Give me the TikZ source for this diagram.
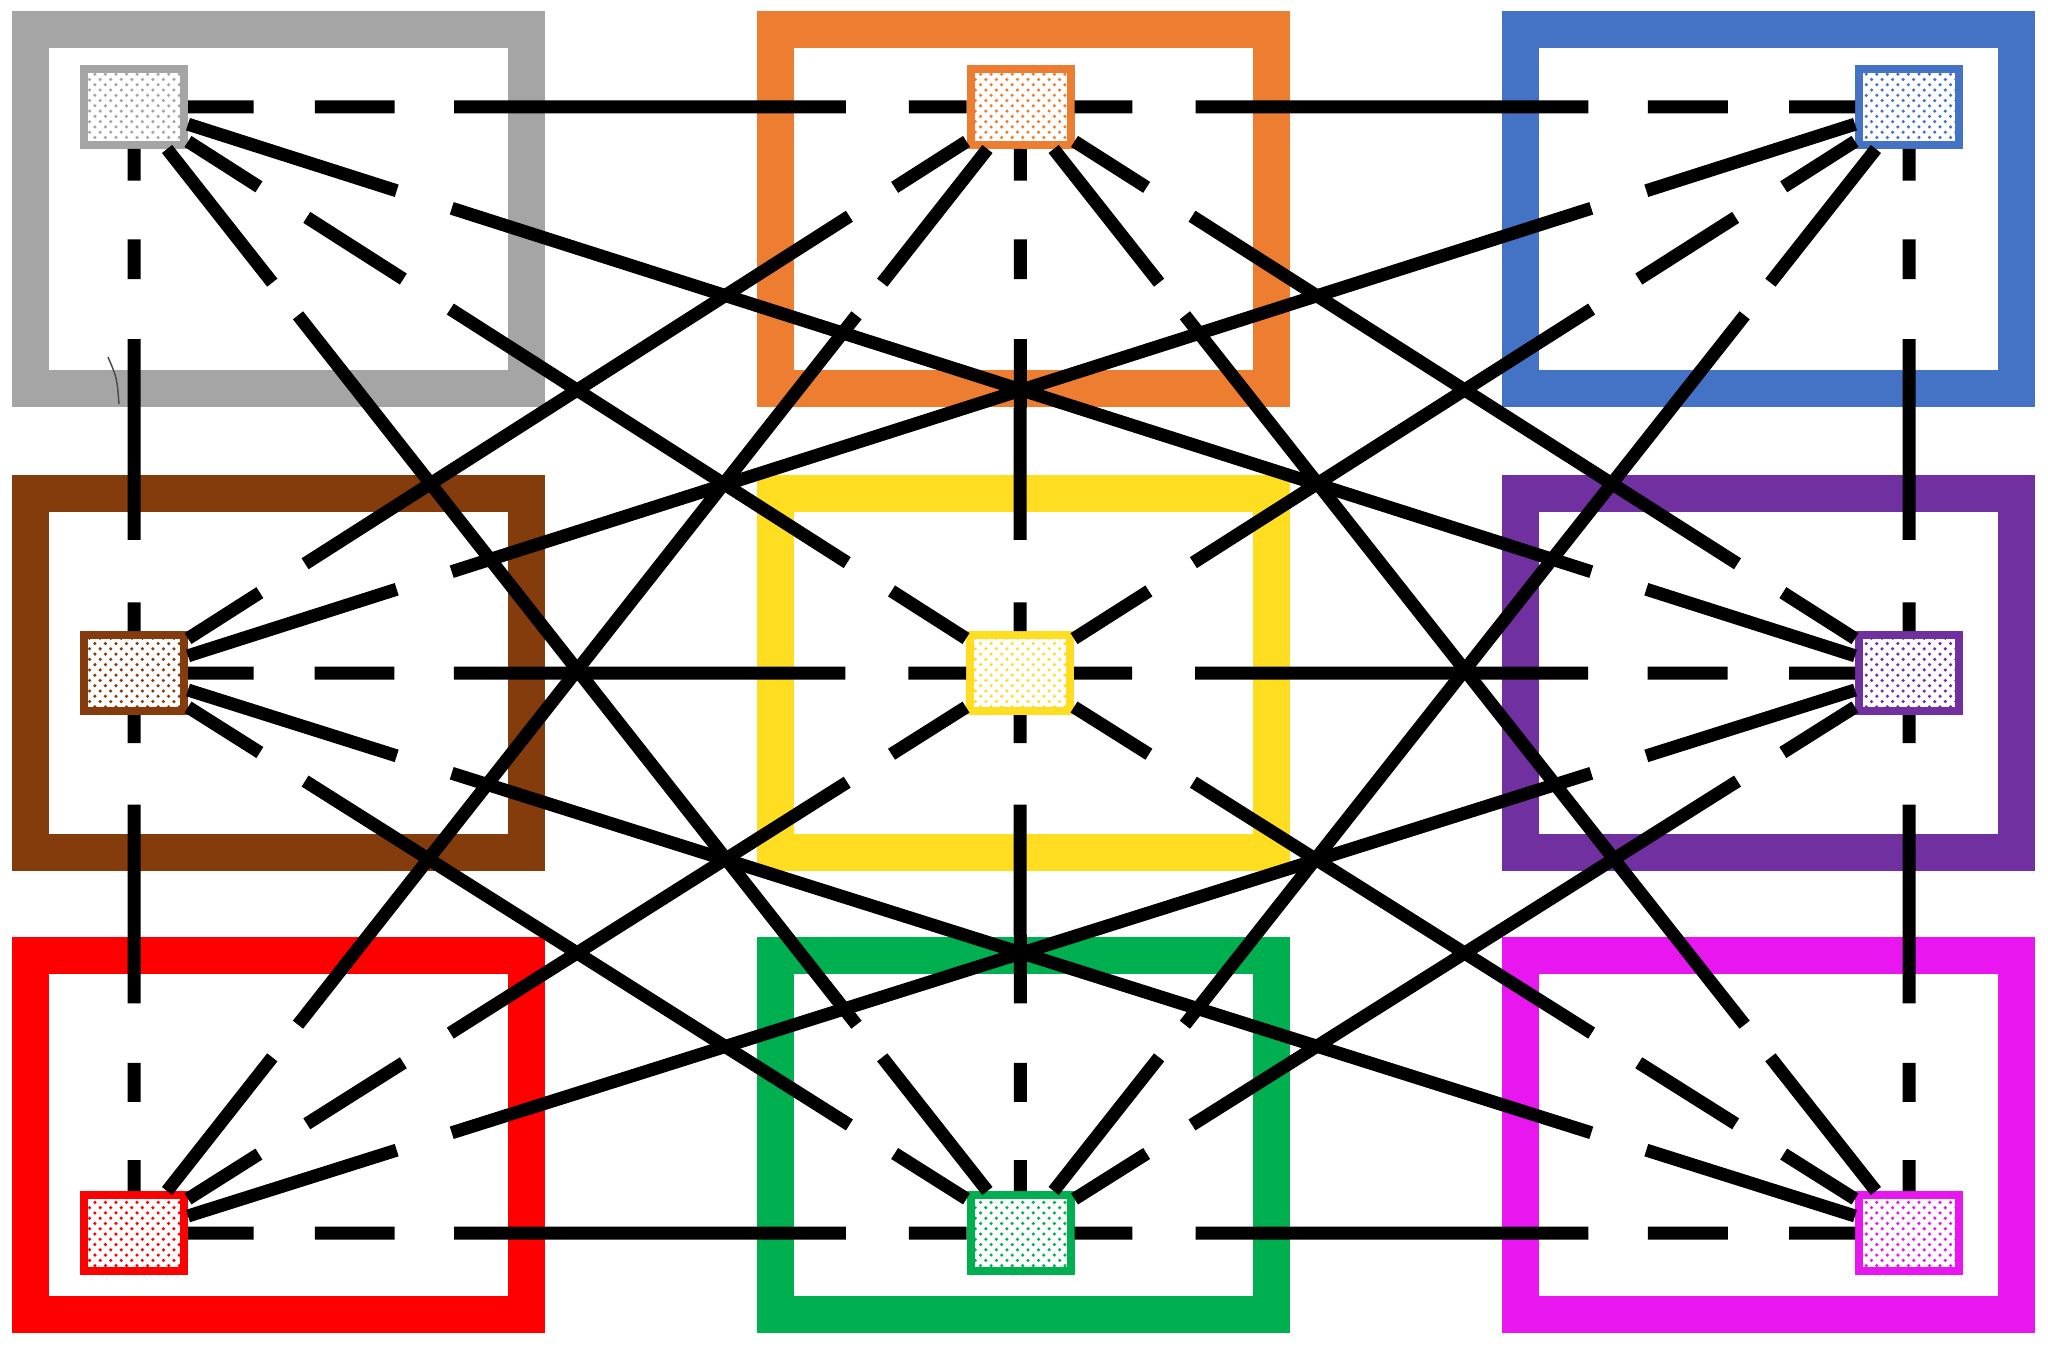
\documentclass[tikz,border=0pt]{standalone}
\usetikzlibrary{calc,patterns}

\definecolor{cgray}{HTML}{A5A5A5}
\definecolor{corange}{HTML}{ED7D31}
\definecolor{cblue}{HTML}{4472C4}
\definecolor{cbrown}{HTML}{843C0C}
\definecolor{cyellow}{HTML}{FFDE21}
\definecolor{cpurple}{HTML}{7030A0}
\definecolor{cred}{HTML}{FF0000}
\definecolor{cgreen}{HTML}{00B050}
\definecolor{cmagenta}{HTML}{E817EF}

\begin{document}
\begin{tikzpicture}[x=0.1mm, y=-0.1mm,
	frame/.style={draw=#1, line width=3.7mm, minimum width=49.6mm, minimum height=35.9mm, inner sep=0pt},
	cell/.style={draw=#1, line width=0.8mm, minimum width=10mm, minimum height=7.6mm, inner sep=0pt, preaction={fill=white}, pattern=crosshatch dots, pattern color=#1},
	link/.style={line width=1.3mm, black}]

		\useasboundingbox (0,0) rectangle (2048,1350);

		% big frames
		\node[frame=cgray] (fnw) at (278.5,209) {};
		\node[frame=corange] (fn) at (1023.5,209) {};
		\node[frame=cblue] (fne) at (1768.5,209) {};
		\node[frame=cbrown] (fw) at (278.5,673) {};
		\node[frame=cyellow] (fc) at (1023.5,673) {};
		\node[frame=cpurple] (fe) at (1768.5,673) {};
		\node[frame=cred] (fsw) at (278.5,1135) {};
		\node[frame=cgreen] (fs) at (1023.5,1135) {};
		\node[frame=cmagenta] (fse) at (1768.5,1135) {};

		\draw[line width=0.15mm, black!70] (108,357) .. controls (117,378) .. (119,404);

		% small cells
		\node[cell=cgray] (nw) at (134,107) {};
		\node[cell=corange] (n) at (1020.5,107) {};
		\node[cell=cblue] (ne) at (1909,107) {};
		\node[cell=cbrown] (w) at (134,673) {};
		\node[cell=cyellow] (c) at (1020,673) {};
		\node[cell=cpurple] (e) at (1909,673) {};
		\node[cell=cred] (sw) at (134,1233) {};
		\node[cell=cgreen] (s) at (1020.5,1233) {};
		\node[cell=cmagenta] (se) at (1909,1233) {};

		% rows, two gaps at the first end
		\foreach \a/\b in {nw/n, ne/n, w/c, e/c, sw/s, se/s}
			\draw[link] (\a) -- ($(\a)!.135!(\b)$) ($(\a)!.204!(\b)$) -- ($(\a)!.294!(\b)$) ($(\a)!.361!(\b)$) -- ($(\b)!.197!(\a)$) ($(\b)!.126!(\a)$) -- (\b);

		% columns
		\foreach \a/\b in {nw/w, sw/w, n/c, s/c, ne/e, se/e}
			\draw[link] (\a) -- ($(\a)!.13!(\b)$) ($(\a)!.234!(\b)$) -- ($(\a)!.304!(\b)$) ($(\a)!.41!(\b)$) -- ($(\b)!.235!(\a)$) ($(\b)!.125!(\a)$) -- (\b);

		% corners to centre
		\foreach \a/\b in {nw/c, ne/c, sw/c, se/c}
			\draw[link] (\a) -- ($(\a)!.141!(\b)$) ($(\a)!.195!(\b)$) -- ($(\a)!.304!(\b)$) ($(\a)!.357!(\b)$) -- ($(\b)!.195!(\a)$) ($(\b)!.145!(\a)$) -- (\b);

		% short diagonals
		\foreach \a/\b in {w/n, n/e, e/s, s/w}
			\draw[link] (\a) -- ($(\a)!.142!(\b)$) ($(\a)!.193!(\b)$) -- ($(\b)!.193!(\a)$) ($(\b)!.142!(\a)$) -- (\b);

		% long flat diagonals
		\foreach \a/\b in {nw/e, ne/w, sw/e, se/w}
			\draw[link] (\a) -- ($(\a)!.148!(\b)$) ($(\a)!.179!(\b)$) -- ($(\b)!.179!(\a)$) ($(\b)!.148!(\a)$) -- (\b);

		% long steep diagonals
		\foreach \a/\b in {nw/s, ne/s, sw/n, se/n}
			\draw[link] (\a) -- ($(\a)!.156!(\b)$) ($(\a)!.185!(\b)$) -- ($(\b)!.185!(\a)$) ($(\b)!.156!(\a)$) -- (\b);

	\end{tikzpicture}
\end{document}
